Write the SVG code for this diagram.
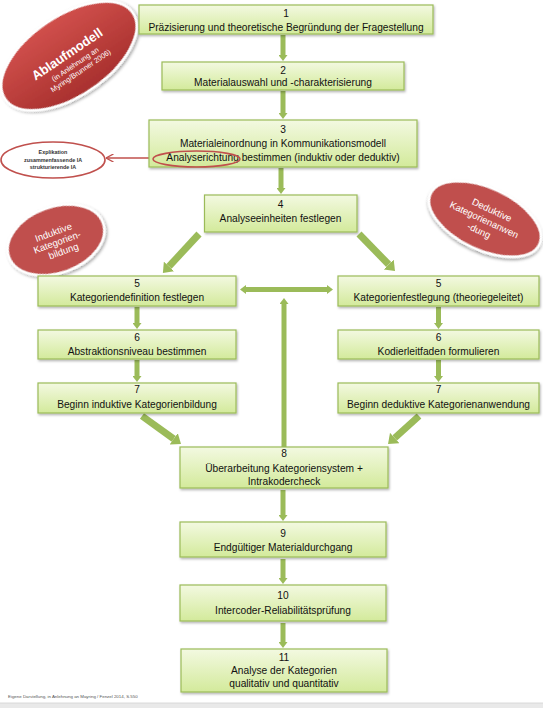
<svg xmlns="http://www.w3.org/2000/svg" width="543" height="708" viewBox="0 0 543 708">
<defs>
<linearGradient id="gbox" x1="0" y1="0" x2="0" y2="1">
<stop offset="0" stop-color="#f3f9e1"/>
<stop offset="1" stop-color="#d3ea9b"/>
</linearGradient>
<linearGradient id="gred" x1="0" y1="0" x2="0" y2="1">
<stop offset="0" stop-color="#d1504c"/>
<stop offset="1" stop-color="#a8302e"/>
</linearGradient>
<filter id="sh" x="-10%" y="-20%" width="125%" height="150%">
<feDropShadow dx="1" dy="1.5" stdDeviation="1" flood-color="#000" flood-opacity="0.3"/>
</filter>
<filter id="esh" x="-20%" y="-20%" width="140%" height="150%">
<feDropShadow dx="1" dy="2" stdDeviation="1.5" flood-color="#000" flood-opacity="0.35"/>
</filter>
<marker id="ah" viewBox="0 0 6 9" markerWidth="6" markerHeight="9" refX="0" refY="4.5" orient="auto-start-reverse" markerUnits="userSpaceOnUse">
<path d="M0,0 L6,4.5 L0,9 z" fill="#9bbb59"/>
</marker>
<marker id="ahb" viewBox="0 0 9 14" markerWidth="9" markerHeight="14" refX="0" refY="7" orient="auto" markerUnits="userSpaceOnUse">
<path d="M0,0 L9,7 L0,14 z" fill="#9bbb59"/>
</marker>
<marker id="rh" viewBox="0 0 8 8" markerWidth="8" markerHeight="8" refX="7.5" refY="4" orient="auto" markerUnits="userSpaceOnUse">
<path d="M0,0 L7.5,4 L0,8" fill="none" stroke="#c0504d" stroke-width="1.4"/>
</marker>
</defs>
<style>
.box{fill:url(#gbox);stroke:#9bbb59;stroke-width:1.2;filter:url(#sh)}
.t{font-family:"Liberation Sans",Arial,sans-serif;font-size:10.2px;fill:#111;text-anchor:middle}
.ar{stroke:#9bbb59;stroke-width:5;fill:none;marker-end:url(#ah)}
.arb{stroke:#9bbb59;stroke-width:7;fill:none;marker-end:url(#ahb)}
.red{fill:#c0504d;stroke:#fff;stroke-width:2.5;filter:url(#esh)}
.wt{font-family:"Liberation Sans",Arial,sans-serif;fill:#fff;text-anchor:middle}
</style>
<rect width="543" height="708" fill="#fff"/>

<g id="ablaufmodell">
<ellipse cx="0" cy="0" rx="77" ry="40" transform="translate(69,56) rotate(-34)" fill="url(#gred)" stroke="#fff" stroke-width="2.5" filter="url(#esh)"/>
<g transform="translate(69,57) rotate(-34)">
<text class="wt" x="0" y="1" font-size="13" font-weight="bold">Ablaufmodell</text>
<text class="wt" x="1" y="12" font-size="7.3">(in Anlehnung an</text>
<text class="wt" x="2" y="20.5" font-size="7.3">Myring/Brunner 2006)</text>
</g>
</g>

<g id="induktiv">
<ellipse cx="0" cy="0" rx="50" ry="33" transform="translate(56,240) rotate(-20)" class="red"/>
<g transform="translate(57,242) rotate(-20)">
<text class="wt" x="0" y="-7" font-size="9.6">Induktive</text>
<text class="wt" x="0" y="3.5" font-size="9.6">Kategorien-</text>
<text class="wt" x="3" y="14" font-size="9.6">bildung</text>
</g>
</g>

<g id="deduktiv">
<ellipse cx="0" cy="0" rx="60" ry="31" transform="translate(485,219) rotate(25)" class="red"/>
<g transform="translate(484,220) rotate(25)">
<text class="wt" x="3" y="-9" font-size="9.6">Deduktive</text>
<text class="wt" x="0" y="3" font-size="9.6">Kategorienanwen</text>
<text class="wt" x="0" y="15" font-size="9.6">-dung</text>
</g>
</g>

<g id="explikation">
<ellipse cx="53" cy="160" rx="52" ry="18" fill="#fff" stroke="#c0504d" stroke-width="1.6"/>
<text x="53" y="154" font-family="Liberation Sans,Arial,sans-serif" font-size="5.4" font-weight="bold" fill="#333" text-anchor="middle">Explikation</text>
<text x="53" y="161.5" font-family="Liberation Sans,Arial,sans-serif" font-size="5.4" font-weight="bold" fill="#333" text-anchor="middle">zusammenfassende IA</text>
<text x="53" y="169" font-family="Liberation Sans,Arial,sans-serif" font-size="5.4" font-weight="bold" fill="#333" text-anchor="middle">strukturierende IA</text>
</g>

<g id="connectors">
<line class="ar" x1="283" y1="35" x2="283" y2="55"/>
<line class="ar" x1="283" y1="91" x2="283" y2="113"/>
<line class="ar" x1="281" y1="168" x2="281" y2="188"/>
<line class="arb" x1="199" y1="234" x2="169" y2="266.4"/>
<line class="arb" x1="359" y1="234" x2="388.7" y2="264.5"/>
<line class="ar" x1="137" y1="307" x2="137" y2="323"/>
<line class="ar" x1="137" y1="360" x2="137" y2="376"/>
<line class="ar" x1="438.5" y1="307" x2="438.5" y2="323"/>
<line class="ar" x1="438.5" y1="360" x2="438.5" y2="376"/>
<line class="ar" x1="246" y1="289.5" x2="327" y2="289.5" marker-start="url(#ah)"/>
<line class="ar" x1="284" y1="447" x2="284" y2="304"/>
<line class="arb" x1="142" y1="416" x2="173.7" y2="438.8"/>
<line class="arb" x1="419" y1="416" x2="394.7" y2="438"/>
<line class="ar" x1="283" y1="490" x2="283" y2="515"/>
<line class="ar" x1="283" y1="559" x2="283" y2="578"/>
<line class="ar" x1="283" y1="623" x2="283" y2="642"/>
<line x1="149" y1="158" x2="106" y2="158" stroke="#c0504d" stroke-width="1.4" marker-end="url(#rh)"/>
</g>

<g id="n1"><rect class="box" x="139" y="5" width="294" height="29"/>
<text class="t" x="286" y="17">1</text><text class="t" x="286" y="30.5">Präzisierung und theoretische Begründung der Fragestellung</text></g>
<g id="n2"><rect class="box" x="162" y="62" width="242" height="28"/>
<text class="t" x="283" y="73.5">2</text><text class="t" x="283" y="86">Materialauswahl und -charakterisierung</text></g>
<g id="n3"><rect class="box" x="149" y="120" width="268" height="47"/>
<text class="t" x="283" y="132.5">3</text><text class="t" x="283" y="146.5">Materialeinordnung in Kommunikationsmodell</text><text class="t" x="283" y="160.5">Analyserichtung bestimmen (induktiv oder deduktiv)</text>
<ellipse cx="196.5" cy="159" rx="43.5" ry="8" fill="none" stroke="#c0504d" stroke-width="1.6"/></g>
<g id="n4"><rect class="box" x="204.5" y="195" width="152.5" height="37"/>
<text class="t" x="280.5" y="208">4</text><text class="t" x="280.5" y="222">Analyseeinheiten festlegen</text></g>
<g id="n5l"><rect class="box" x="38" y="276" width="198" height="30"/>
<text class="t" x="137" y="286.5">5</text><text class="t" x="137" y="301">Kategoriendefinition festlegen</text></g>
<g id="n5r"><rect class="box" x="338" y="276" width="201" height="30"/>
<text class="t" x="438.5" y="286.5">5</text><text class="t" x="438.5" y="301">Kategorienfestlegung (theoriegeleitet)</text></g>
<g id="n6l"><rect class="box" x="38" y="330" width="198" height="29"/>
<text class="t" x="137" y="340.5">6</text><text class="t" x="137" y="355">Abstraktionsniveau bestimmen</text></g>
<g id="n6r"><rect class="box" x="338" y="330" width="201" height="29"/>
<text class="t" x="438.5" y="340.5">6</text><text class="t" x="438.5" y="355">Kodierleitfaden formulieren</text></g>
<g id="n7l"><rect class="box" x="38" y="383" width="198" height="30"/>
<text class="t" x="137" y="393">7</text><text class="t" x="137" y="408">Beginn induktive Kategorienbildung</text></g>
<g id="n7r"><rect class="box" x="338" y="383" width="201" height="30"/>
<text class="t" x="438.5" y="393">7</text><text class="t" x="438.5" y="408">Beginn deduktive Kategorienanwendung</text></g>
<g id="n8"><rect class="box" x="180" y="447" width="208" height="41"/>
<text class="t" x="284" y="456.5">8</text><text class="t" x="284" y="471.5">Überarbeitung Kategoriensystem +</text><text class="t" x="284" y="484.5">Intrakodercheck</text></g>
<g id="n9"><rect class="box" x="180" y="522" width="206" height="35"/>
<text class="t" x="283" y="536.5">9</text><text class="t" x="283" y="551">Endgültiger Materialdurchgang</text></g>
<g id="n10"><rect class="box" x="180" y="585" width="206" height="36"/>
<text class="t" x="283" y="598.5">10</text><text class="t" x="283" y="613.5">Intercoder-Reliabilitätsprüfung</text></g>
<g id="n11"><rect class="box" x="181" y="649" width="206" height="43"/>
<text class="t" x="284" y="660.5">11</text><text class="t" x="284" y="673.5">Analyse der Kategorien</text><text class="t" x="284" y="686.5">qualitativ und quantitativ</text></g>

<text x="8" y="697.5" font-family="Liberation Sans,Arial,sans-serif" font-size="4.4" fill="#555">Eigene Darstellung, in Anlehnung an Mayring / Fenzel 2014, S.550</text>
<rect x="0" y="703" width="543" height="5" fill="#e9e9e9"/>
<line x1="0" y1="703" x2="543" y2="703" stroke="#d2d2d2" stroke-width="0.8"/>
</svg>
